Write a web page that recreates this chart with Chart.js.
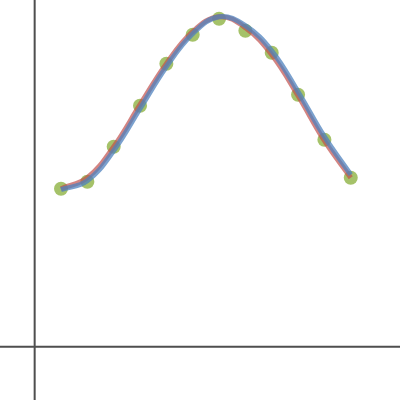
<!DOCTYPE html>
<html>
<head>
<meta charset="utf-8">
<script src="https://cdn.jsdelivr.net/npm/chart.js@4/dist/chart.umd.min.js"></script>
<style>
html,body{margin:0;padding:0;background:#fff;}
#wrap{width:400px;height:400px;}
</style>
</head>
<body>
<div id="wrap"><canvas id="c" width="400" height="400"></canvas></div>
<script>
const xValues = [1,2,3,4,5,6,7,8,9,10,11,12];
const pointValues = [1.58,1.65,2.00,2.41,2.83,3.12,3.28,3.16,2.94,2.52,2.07,1.69];
const redValues   = [1.58,1.69,2.00,2.42,2.83,3.15,3.30,3.19,2.92,2.51,2.06,1.69];
const blueValues  = [1.57,1.66,1.96,2.38,2.80,3.13,3.30,3.21,2.96,2.55,2.10,1.72];

const toXY = arr => xValues.map((x,i)=>({x:x,y:arr[i]}));

const axesPlugin = {
  id:'axesAtZero',
  afterDraw(chart){
    const ctx = chart.ctx, xs = chart.scales.x, ys = chart.scales.y;
    const x0 = xs.getPixelForValue(0), y0 = ys.getPixelForValue(0);
    ctx.save();
    ctx.strokeStyle = 'rgba(60,60,60,0.9)';
    ctx.lineWidth = 2;
    ctx.beginPath();
    ctx.moveTo(x0, 0); ctx.lineTo(x0, chart.height);
    ctx.moveTo(0, y0); ctx.lineTo(chart.width, y0);
    ctx.stroke();
    ctx.restore();
  }
};

new Chart(document.getElementById('c'), {
  type:'scatter',
  data:{
    datasets:[
      {label:'blue', data:toXY(blueValues), showLine:true, tension:0.4,
       borderColor:'rgba(79,129,189,0.75)', borderWidth:5, pointRadius:0, order:0, fill:false},
      {label:'red', data:toXY(redValues), showLine:true, tension:0.4,
       borderColor:'rgba(192,80,77,0.7)', borderWidth:5, pointRadius:0, order:1, fill:false},
      {label:'points', data:toXY(pointValues), showLine:false,
       backgroundColor:'rgba(155,187,89,0.9)', borderWidth:0, pointRadius:7, order:2}
    ]
  },
  options:{
    responsive:false,
    animation:false,
    devicePixelRatio:1,
    layout:{padding:0, autoPadding:false},
    plugins:{legend:{display:false}, tooltip:{enabled:false}},
    scales:{
      x:{type:'linear', display:false, min:-1.316, max:13.87},
      y:{type:'linear', display:false, min:-0.533, max:3.467}
    }
  },
  plugins:[axesPlugin]
});
</script>
</body>
</html>
